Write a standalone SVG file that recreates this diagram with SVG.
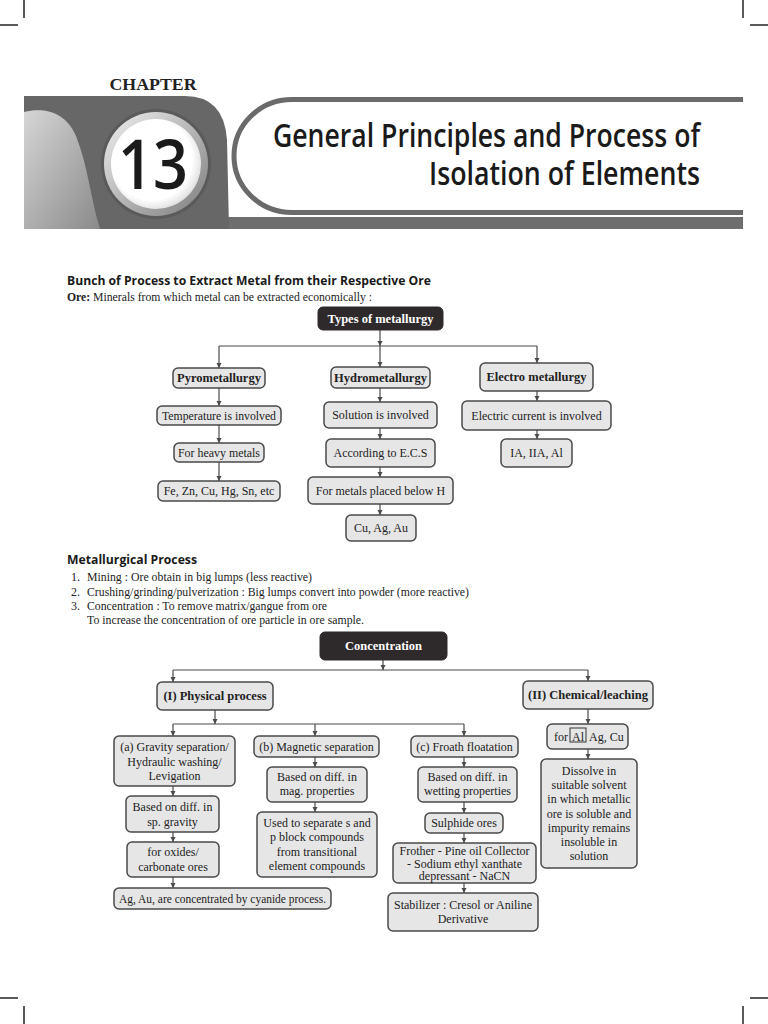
<svg xmlns="http://www.w3.org/2000/svg" width="768" height="1024" viewBox="0 0 768 1024">
<defs>
<style>
.box{fill:#e6e6e6;stroke:#4a4a4a;stroke-width:1.5}
.dark{fill:#2e2a2b;stroke:#2e2a2b}
.t{font-family:"Liberation Serif",serif;font-size:12px;fill:#222;text-anchor:middle}
.tb{font-family:"Liberation Serif",serif;font-size:12.5px;font-weight:bold;fill:#222;text-anchor:middle}
.tw{font-family:"Liberation Serif",serif;font-size:12.5px;font-weight:bold;fill:#fff;text-anchor:middle}
.body{font-family:"Liberation Serif",serif;font-size:12px;fill:#222}
.head{font-family:"Open Sans","Liberation Sans",sans-serif;font-size:13px;font-weight:bold;fill:#1a1a1a}
.ln{fill:none;stroke:#4a4a4a;stroke-width:1.2}
.crop{stroke:#222;stroke-width:1.5}
</style>
<marker id="ah" markerWidth="6" markerHeight="6" refX="5" refY="3" orient="auto" markerUnits="userSpaceOnUse">
<path d="M0,0.5 L5,3 L0,5.5 Z" fill="#4a4a4a"/>
</marker>
<linearGradient id="lg" x1="0" y1="0" x2="1" y2="1">
<stop offset="0" stop-color="#d6d6d6"/>
<stop offset="1" stop-color="#8a8a8a"/>
</linearGradient>
<linearGradient id="ring" x1="0" y1="0" x2="1" y2="1">
<stop offset="0" stop-color="#f0f0f0"/>
<stop offset="1" stop-color="#7d7d7d"/>
</linearGradient>
<radialGradient id="inner" cx="0.45" cy="0.45" r="0.6">
<stop offset="0.75" stop-color="#ffffff"/>
<stop offset="1" stop-color="#d8d8d8"/>
</radialGradient>
</defs>

<rect width="768" height="1024" fill="#fff"/>

<g id="cropmarks">
<line class="crop" x1="24" y1="0" x2="24" y2="18"/>
<line class="crop" x1="0" y1="25" x2="18" y2="25"/>
<line class="crop" x1="743" y1="0" x2="743" y2="18"/>
<line class="crop" x1="750" y1="25" x2="768" y2="25"/>
<line class="crop" x1="0" y1="998" x2="18" y2="998"/>
<line class="crop" x1="24" y1="1006" x2="24" y2="1024"/>
<line class="crop" x1="750" y1="998" x2="768" y2="998"/>
<line class="crop" x1="743" y1="1006" x2="743" y2="1024"/>
</g>

<g id="header">
<text x="153" y="90" text-anchor="middle" font-family="Liberation Serif,serif" font-weight="bold" font-size="17" fill="#222" textLength="87" lengthAdjust="spacingAndGlyphs">CHAPTER</text>
<rect x="24" y="217" width="719" height="12" fill="#6e6e6e"/>
<path d="M24,96 H185 Q224,96 227,140 L229,229 H24 Z" fill="#676767"/>
<path d="M24,112 C46,107 66,113 76,136 C88,166 91,200 100,229 H24 Z" fill="url(#lg)"/>
<circle cx="156" cy="164" r="55" fill="#5a5a5a"/>
<circle cx="156" cy="164" r="52" fill="url(#ring)"/>
<circle cx="156" cy="164" r="45" fill="url(#inner)"/>
<text x="153" y="189" text-anchor="middle" font-family="Open Sans,Liberation Sans,sans-serif" font-size="68" font-weight="600" fill="#1a1a1a" textLength="70" lengthAdjust="spacingAndGlyphs">13</text>
<path d="M743,99.5 H292 A58,56.5 0 0 0 292,212.5 H743" fill="#fff" stroke="#6a6a6a" stroke-width="5"/>
<text x="700" y="147" text-anchor="end" font-family="Open Sans,Liberation Sans,sans-serif" font-size="32" font-weight="600" fill="#1a1a1a" textLength="427" lengthAdjust="spacingAndGlyphs">General Principles and Process of</text>
<text x="700" y="185" text-anchor="end" font-family="Open Sans,Liberation Sans,sans-serif" font-size="32" font-weight="600" fill="#1a1a1a" textLength="271" lengthAdjust="spacingAndGlyphs">Isolation of Elements</text>
</g>

<g id="intro">
<text class="head" x="67" y="285" textLength="364" lengthAdjust="spacingAndGlyphs">Bunch of Process to Extract Metal from their Respective Ore</text>
<text class="body" x="67" y="301" textLength="305" lengthAdjust="spacingAndGlyphs"><tspan font-weight="bold">Ore:</tspan> Minerals from which metal can be extracted economically :</text>
</g>

<g id="connectors">
<line class="ln" x1="380" y1="330" x2="380" y2="346" marker-end="url(#ah)"/>
<polyline class="ln" points="219,346 537,346"/>
<line class="ln" x1="219" y1="346" x2="219" y2="368" marker-end="url(#ah)"/>
<line class="ln" x1="380" y1="346" x2="380" y2="367" marker-end="url(#ah)"/>
<line class="ln" x1="537" y1="346" x2="537" y2="363" marker-end="url(#ah)"/>
<line class="ln" x1="219" y1="388" x2="219" y2="406" marker-end="url(#ah)"/>
<line class="ln" x1="219" y1="425" x2="219" y2="443" marker-end="url(#ah)"/>
<line class="ln" x1="219" y1="462" x2="219" y2="481" marker-end="url(#ah)"/>
<line class="ln" x1="380" y1="388" x2="380" y2="402" marker-end="url(#ah)"/>
<line class="ln" x1="380" y1="428" x2="380" y2="439" marker-end="url(#ah)"/>
<line class="ln" x1="380" y1="467" x2="380" y2="477" marker-end="url(#ah)"/>
<line class="ln" x1="380" y1="504" x2="380" y2="515" marker-end="url(#ah)"/>
<line class="ln" x1="537" y1="391" x2="537" y2="401" marker-end="url(#ah)"/>
<line class="ln" x1="537" y1="430" x2="537" y2="439" marker-end="url(#ah)"/>

<line class="ln" x1="383" y1="660" x2="383" y2="670" marker-end="url(#ah)"/>
<polyline class="ln" points="173,670 588,670"/>
<line class="ln" x1="173" y1="670" x2="173" y2="682" marker-end="url(#ah)"/>
<line class="ln" x1="588" y1="670" x2="588" y2="681" marker-end="url(#ah)"/>
<line class="ln" x1="215" y1="710" x2="215" y2="724" marker-end="url(#ah)"/>
<polyline class="ln" points="173,724 464,724"/>
<line class="ln" x1="173" y1="724" x2="173" y2="736" marker-end="url(#ah)"/>
<line class="ln" x1="315" y1="724" x2="315" y2="736" marker-end="url(#ah)"/>
<line class="ln" x1="464" y1="724" x2="464" y2="736" marker-end="url(#ah)"/>
<line class="ln" x1="173" y1="786" x2="173" y2="796" marker-end="url(#ah)"/>
<line class="ln" x1="173" y1="832" x2="173" y2="842" marker-end="url(#ah)"/>
<line class="ln" x1="173" y1="877" x2="173" y2="888" marker-end="url(#ah)"/>
<line class="ln" x1="315" y1="757" x2="315" y2="767" marker-end="url(#ah)"/>
<line class="ln" x1="315" y1="802" x2="315" y2="812" marker-end="url(#ah)"/>
<line class="ln" x1="464" y1="757" x2="464" y2="767" marker-end="url(#ah)"/>
<line class="ln" x1="464" y1="802" x2="464" y2="813" marker-end="url(#ah)"/>
<line class="ln" x1="464" y1="833" x2="464" y2="843" marker-end="url(#ah)"/>
<line class="ln" x1="464" y1="883" x2="464" y2="893" marker-end="url(#ah)"/>
<line class="ln" x1="588" y1="709" x2="588" y2="724" marker-end="url(#ah)"/>
<line class="ln" x1="588" y1="749" x2="588" y2="759" marker-end="url(#ah)"/>
</g>

<g id="types"><rect class="dark" x="318" y="307" width="125" height="23" rx="5"/><text class="tw" x="380.5" y="323">Types of metallurgy</text></g>
<g id="pyro"><rect class="box" x="173" y="368" width="92" height="20" rx="5"/><text class="tb" x="219" y="382">Pyrometallurgy</text></g>
<g id="hydro"><rect class="box" x="331" y="367" width="99" height="21" rx="5"/><text class="tb" x="380.5" y="382">Hydrometallurgy</text></g>
<g id="electro"><rect class="box" x="480" y="363" width="113" height="28" rx="5"/><text class="tb" x="536.5" y="381">Electro metallurgy</text></g>
<g id="temp"><rect class="box" x="157" y="406" width="124" height="19" rx="5"/><text class="t" x="219" y="419.5" textLength="114" lengthAdjust="spacingAndGlyphs">Temperature is involved</text></g>
<g id="heavy"><rect class="box" x="174" y="443" width="90" height="19" rx="5"/><text class="t" x="219" y="456.5" textLength="82" lengthAdjust="spacingAndGlyphs">For heavy metals</text></g>
<g id="fezn"><rect class="box" x="158" y="481" width="122" height="20" rx="5"/><text class="t" x="219" y="495">Fe, Zn, Cu, Hg, Sn, etc</text></g>
<g id="solution"><rect class="box" x="324" y="402" width="113" height="26" rx="5"/><text class="t" x="380.5" y="419">Solution is involved</text></g>
<g id="ecs"><rect class="box" x="326" y="439" width="109" height="28" rx="5"/><text class="t" x="380.5" y="457">According to E.C.S</text></g>
<g id="belowh"><rect class="box" x="308" y="477" width="145" height="27" rx="5"/><text class="t" x="380.5" y="494.5">For metals placed below H</text></g>
<g id="cuagau"><rect class="box" x="346" y="515" width="70" height="26" rx="5"/><text class="t" x="381" y="532">Cu, Ag, Au</text></g>
<g id="current"><rect class="box" x="462" y="401" width="149" height="29" rx="5"/><text class="t" x="536.5" y="419.5">Electric current is involved</text></g>
<g id="iaiia"><rect class="box" x="501" y="439" width="71" height="28" rx="5"/><text class="t" x="536.5" y="457">IA, IIA, Al</text></g>

<g id="process">
<text class="head" x="67" y="564" textLength="130" lengthAdjust="spacingAndGlyphs">Metallurgical Process</text>
<text class="body" x="71" y="581">1.</text>
<text class="body" x="87" y="581" textLength="225" lengthAdjust="spacingAndGlyphs">Mining : Ore obtain in big lumps (less reactive)</text>
<text class="body" x="71" y="596">2.</text>
<text class="body" x="87" y="596" textLength="382" lengthAdjust="spacingAndGlyphs">Crushing/grinding/pulverization : Big lumps convert into powder (more reactive)</text>
<text class="body" x="71" y="610">3.</text>
<text class="body" x="87" y="610" textLength="240" lengthAdjust="spacingAndGlyphs">Concentration : To remove matrix/gangue from ore</text>
<text class="body" x="87" y="624" textLength="277" lengthAdjust="spacingAndGlyphs">To increase the concentration of ore particle in ore sample.</text>
</g>

<g id="concentration"><rect class="dark" x="320" y="632" width="127" height="28" rx="5"/><text class="tw" x="383.5" y="650">Concentration</text></g>
<g id="physical"><rect class="box" x="157" y="682" width="116" height="28" rx="5"/><text class="tb" x="215" y="700">(I) Physical process</text></g>
<g id="chemical"><rect class="box" x="523" y="681" width="130" height="28" rx="5"/><text class="tb" x="588" y="699">(II) Chemical/leaching</text></g>
<g id="gravity"><rect class="box" x="114" y="736" width="121" height="50" rx="5"/><text class="t" x="174.5" y="751"><tspan x="174.5">(a) Gravity separation/</tspan><tspan x="174.5" dy="14.5">Hydraulic washing/</tspan><tspan x="174.5" dy="14.5">Levigation</tspan></text></g>
<g id="spgravity"><rect class="box" x="126" y="796" width="93" height="36" rx="5"/><text class="t" x="172.5" y="811"><tspan x="172.5">Based on diff. in</tspan><tspan x="172.5" dy="14.5">sp. gravity</tspan></text></g>
<g id="oxides"><rect class="box" x="127" y="842" width="92" height="35" rx="5"/><text class="t" x="173" y="856"><tspan x="173">for oxides/</tspan><tspan x="173" dy="14.5">carbonate ores</tspan></text></g>
<g id="cyanide"><rect class="box" x="114" y="888" width="217" height="21" rx="5"/><text class="t" x="222.5" y="902.5" textLength="207" lengthAdjust="spacingAndGlyphs">Ag, Au, are concentrated by cyanide process.</text></g>
<g id="magnetic"><rect class="box" x="254" y="736" width="125" height="21" rx="5"/><text class="t" x="316.5" y="751">(b) Magnetic separation</text></g>
<g id="magprop"><rect class="box" x="267" y="767" width="100" height="35" rx="5"/><text class="t" x="317" y="781"><tspan x="317">Based on diff. in</tspan><tspan x="317" dy="14">mag. properties</tspan></text></g>
<g id="sblock"><rect class="box" x="257" y="812" width="120" height="65" rx="5"/><text class="t" x="317" y="826.5"><tspan x="317">Used to separate s and</tspan><tspan x="317" dy="14.5">p block compounds</tspan><tspan x="317" dy="14.5">from transitional</tspan><tspan x="317" dy="14.5">element compounds</tspan></text></g>
<g id="froth"><rect class="box" x="411" y="736" width="107" height="21" rx="5"/><text class="t" x="464.5" y="751">(c) Froath floatation</text></g>
<g id="wetting"><rect class="box" x="418" y="767" width="99" height="35" rx="5"/><text class="t" x="467.5" y="781"><tspan x="467.5">Based on diff. in</tspan><tspan x="467.5" dy="14">wetting properties</tspan></text></g>
<g id="sulphide"><rect class="box" x="425" y="813" width="78" height="20" rx="5"/><text class="t" x="464" y="827">Sulphide ores</text></g>
<g id="frother"><rect class="box" x="393" y="843" width="143" height="40" rx="5"/><text class="t" x="464.5" y="855"><tspan x="464.5">Frother - Pine oil Collector</tspan><tspan x="464.5" dy="12.5">- Sodium ethyl xanthate</tspan><tspan x="464.5" dy="12.5">depressant - NaCN</tspan></text></g>
<g id="stabilizer"><rect class="box" x="388" y="893" width="150" height="38" rx="5"/><text class="t" x="463" y="909"><tspan x="463">Stabilizer : Cresol or Aniline</tspan><tspan x="463" dy="14">Derivative</tspan></text></g>
<g id="foral"><rect class="box" x="547" y="724" width="81" height="25" rx="5"/><text class="body" x="554" y="740.5">for</text><rect x="570" y="728" width="16" height="14" fill="none" stroke="#333" stroke-width="1"/><text class="t" x="578" y="740.5">Al</text><text class="body" x="589" y="740.5">Ag, Cu</text></g>
<g id="dissolve"><rect class="box" x="541" y="759" width="96" height="109" rx="5"/><text class="t" x="589" y="775"><tspan x="589">Dissolve in</tspan><tspan x="589" dy="14.2">suitable solvent</tspan><tspan x="589" dy="14.2">in which metallic</tspan><tspan x="589" dy="14.2">ore is soluble and</tspan><tspan x="589" dy="14.2">impurity remains</tspan><tspan x="589" dy="14.2">insoluble in</tspan><tspan x="589" dy="14.2">solution</tspan></text></g>
</svg>
